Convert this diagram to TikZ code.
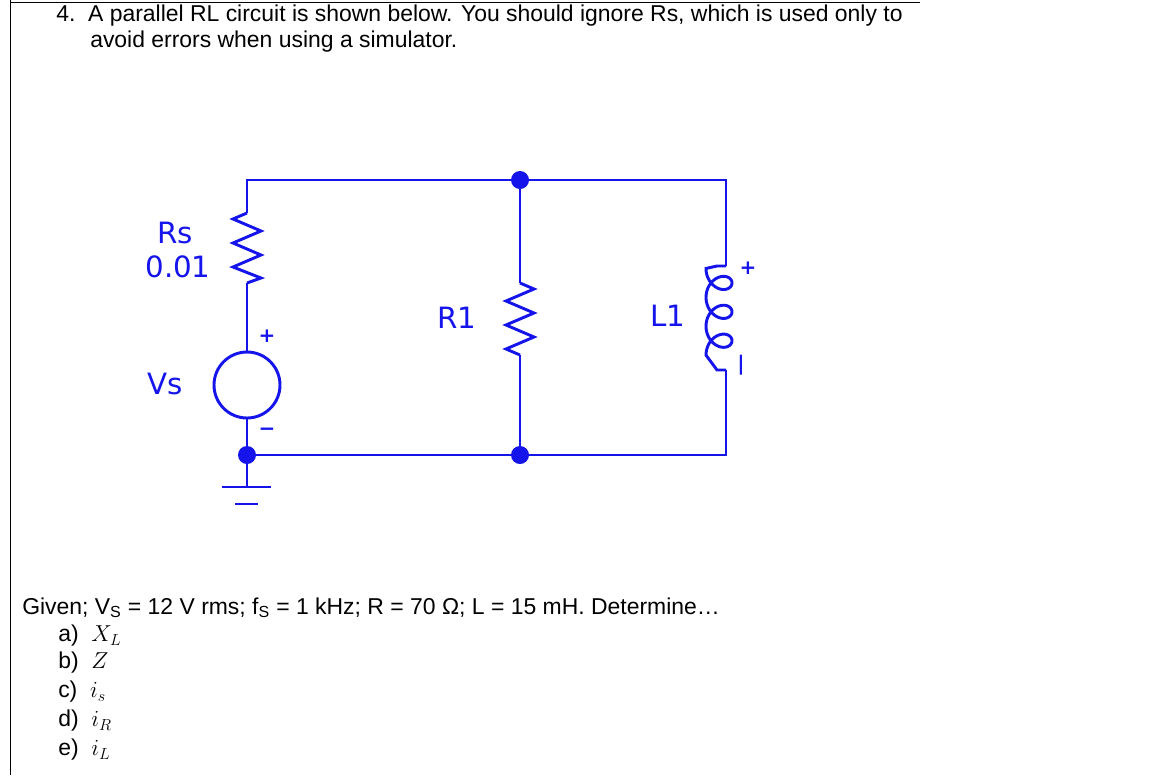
\documentclass[tikz,border=0pt]{standalone}
\usepackage{fontspec}
\setmainfont{Liberation Sans}
\newfontfamily\cirf{DejaVu Sans}
\usetikzlibrary{calc}
\definecolor{cb}{RGB}{20,20,235}
\begin{document}
\begin{tikzpicture}[x=0.75pt,y=-0.75pt,
  w/.style={draw=cb,line width=2.2pt},
  dot/.style={circle,fill=cb,inner sep=0,minimum size=13.5pt},
  lab/.style={text=cb,font=\cirf\fontsize{22}{24}\selectfont,inner sep=0},
  pm/.style={text=cb,font=\cirf\bfseries\fontsize{15}{15}\selectfont,inner sep=0},
  txt/.style={font=\fontsize{17.2}{18}\selectfont,anchor=west,inner sep=0}]
\useasboundingbox (0,0) rectangle (1152,775);
\draw[line width=0.6pt] (10,0) -- (10,775);
\draw[line width=0.6pt] (10,2) -- (920,2);
\node[txt] (t1) at (56,16) {4.\ \ A parallel RL circuit is shown below. You should ignore Rs, which is used only to};
\node[txt] (t2) at (90,42) {avoid errors when using a simulator.};
% coordinates
\coordinate (tl) at (247,180); \coordinate (tm) at (520,180); \coordinate (tr) at (726,180);
\node[dot] (bl) at (247,455) {}; \node[dot] (bm) at (520,455) {}; \coordinate (br) at (726,455);
\node[dot] (tmd) at (520,180) {};
\coordinate (rs1) at (247,213); \coordinate (rs2) at (247,283);
\node[circle,w,minimum size=49.5pt,inner sep=0] (vs) at (247,385) {};
\coordinate (r1a) at (520,283); \coordinate (r1b) at (520,355);
\coordinate (l1a) at (726,266); \coordinate (l1b) at (726,370);
\coordinate (g1) at (247,487);
% wires
\draw[w] (rs1) |- (tm) -| (l1a);
\draw[w] (tm) -- (r1a);
\draw[w] (r1b) -- (bm);
\draw[w] (rs2) -- (vs.north);
\draw[w] (vs.south) -- (bl) -- (g1);
\draw[w] (bl) -- (bm) -| (l1b);
\draw[w] (222,487) -- (271,487);
\draw[w] (235,504) -- (258,504);
% resistors
\draw[w,line join=miter] (rs1) -- (233,219) -- (261,231) -- (233,243) -- (261,255) -- (233,267) -- (261,278) -- (rs2);
\draw[w,line join=miter] (r1a) -- ++(14,6) -- ++(-28,12) -- ++(28,12) -- ++(-28,12) -- ++(28,12) -- ++(-28,12) -- (r1b);
% inductor
\draw[w,smooth] (l1a) -- (717,266) -- plot[domain=pi:7*pi,samples=160,variable=\t] ({719+13*cos(\t r)},{254+4.6*\t-13*sin(\t r)}) -- (717,370) -- (l1b);
% labels
\node[lab] (lrs) at (175,233) {Rs};
\node[lab] (lrsv) at (178,267) {0.01};
\node[lab] (lvs) at (165,384) {Vs};
\node[lab] (lr1) at (457,318) {R1};
\node[lab] (ll1) at (668,316) {L1};
\node[pm] at (267,336) {+};
\node[pm] at (267,432) {\textminus};
\node[pm] at (748,268) {+};
\node[pm] at (741,365) {|};
% given
\node[txt] (g) at (22,608) {Given; V\textsubscript{S} = 12 V rms; f\textsubscript{S} = 1 kHz; R = 70 Ω; L = 15 mH. Determine…};
\node[txt] (a) at (58,636) {a)\ \ $X_L$};
\node[txt] (b) at (58,663) {b)\ \ $Z$};
\node[txt] (c) at (58,692) {c)\ \ $i_s$};
\node[txt] (d) at (58,721) {d)\ \ $i_R$};
\node[txt] (e) at (58,750) {e)\ \ $i_L$};
\end{tikzpicture}
\end{document}
